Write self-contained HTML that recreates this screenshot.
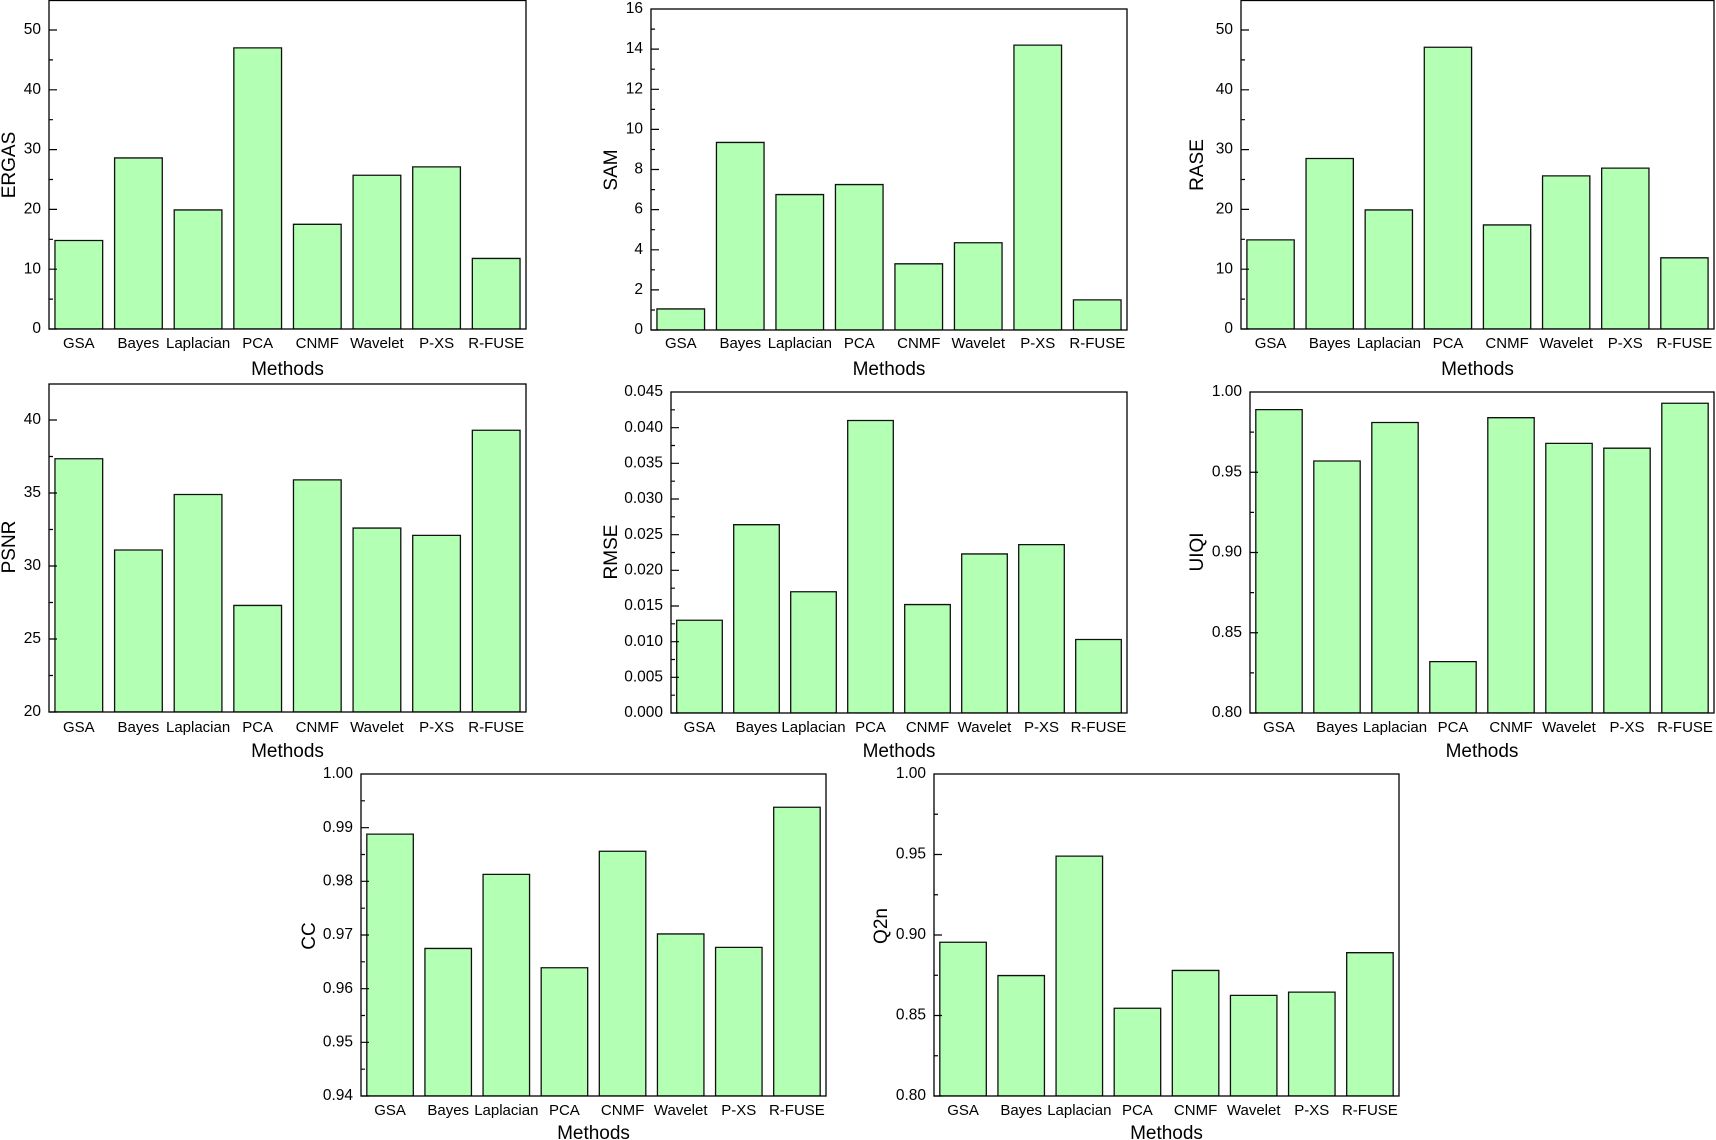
<!DOCTYPE html>
<html><head><meta charset="utf-8"><style>
html,body{margin:0;padding:0;background:#fff}
svg{display:block}
text{font-family:"Liberation Sans",Arial,sans-serif;fill:#000}
.t{font-size:15.5px;text-anchor:end;dominant-baseline:middle}
.c{font-size:15px;text-anchor:middle}
.a{font-size:19px;text-anchor:middle}
.b rect{fill:#b3ffb3;stroke:#111;stroke-width:1.3px;vector-effect:non-scaling-stroke}
.box{fill:none;stroke:#000;stroke-width:1.3}
.tk{stroke:#000;stroke-width:1.2}
</style></head><body>
<svg width="1716" height="1140" viewBox="0 0 1716 1140" xmlns="http://www.w3.org/2000/svg">

<!-- Chart 1 ERGAS -->
<svg class="b" x="49" y="0" width="477" height="329" viewBox="0 -55 8 55" preserveAspectRatio="none">
<rect x="0.1" y="-14.8" width="0.8" height="14.8"/><rect x="1.1" y="-28.6" width="0.8" height="28.6"/><rect x="2.1" y="-19.9" width="0.8" height="19.9"/><rect x="3.1" y="-47" width="0.8" height="47"/><rect x="4.1" y="-17.5" width="0.8" height="17.5"/><rect x="5.1" y="-25.7" width="0.8" height="25.7"/><rect x="6.1" y="-27.1" width="0.8" height="27.1"/><rect x="7.1" y="-11.8" width="0.8" height="11.8"/>
</svg>
<rect class="box" x="49" y="0.5" width="477" height="328.5"/>
<path class="tk" d="M49 329h8M49 269.2h8M49 209.4h8M49 149.6h8M49 89.8h8M49 30h8M49 299.1h4M49 239.3h4M49 179.5h4M49 119.7h4M49 59.9h4"/>
<text class="t" x="41" y="329">0</text><text class="t" x="41" y="269.2">10</text><text class="t" x="41" y="209.4">20</text><text class="t" x="41" y="149.6">30</text><text class="t" x="41" y="89.8">40</text><text class="t" x="41" y="30">50</text>
<g class="c"><text x="78.8" y="348">GSA</text><text x="138.4" y="348">Bayes</text><text x="198.1" y="348">Laplacian</text><text x="257.7" y="348">PCA</text><text x="317.3" y="348">CNMF</text><text x="376.9" y="348">Wavelet</text><text x="436.6" y="348">P-XS</text><text x="496.2" y="348">R-FUSE</text></g>
<text class="a" x="287.5" y="375">Methods</text>
<text class="a" transform="translate(15,165) rotate(-90)">ERGAS</text>

<!-- Chart 2 SAM -->
<svg class="b" x="651" y="9" width="476" height="321" viewBox="0 -16 8 16" preserveAspectRatio="none">
<rect x="0.1" y="-1.05" width="0.8" height="1.05"/><rect x="1.1" y="-9.35" width="0.8" height="9.35"/><rect x="2.1" y="-6.75" width="0.8" height="6.75"/><rect x="3.1" y="-7.25" width="0.8" height="7.25"/><rect x="4.1" y="-3.3" width="0.8" height="3.3"/><rect x="5.1" y="-4.35" width="0.8" height="4.35"/><rect x="6.1" y="-14.2" width="0.8" height="14.2"/><rect x="7.1" y="-1.5" width="0.8" height="1.5"/>
</svg>
<rect class="box" x="651" y="9" width="476" height="321"/>
<path class="tk" d="M651 330h8M651 289.9h8M651 249.8h8M651 209.6h8M651 169.5h8M651 129.4h8M651 89.3h8M651 49.1h8M651 310h4M651 269.8h4M651 229.7h4M651 189.6h4M651 149.5h4M651 109.4h4M651 69.2h4M651 29.1h4"/>
<text class="t" x="643" y="330">0</text><text class="t" x="643" y="289.9">2</text><text class="t" x="643" y="249.8">4</text><text class="t" x="643" y="209.6">6</text><text class="t" x="643" y="169.5">8</text><text class="t" x="643" y="129.4">10</text><text class="t" x="643" y="89.3">12</text><text class="t" x="643" y="49.1">14</text><text class="t" x="643" y="9">16</text>
<g class="c"><text x="680.8" y="348">GSA</text><text x="740.3" y="348">Bayes</text><text x="799.8" y="348">Laplacian</text><text x="859.3" y="348">PCA</text><text x="918.8" y="348">CNMF</text><text x="978.3" y="348">Wavelet</text><text x="1037.8" y="348">P-XS</text><text x="1097.3" y="348">R-FUSE</text></g>
<text class="a" x="889" y="375">Methods</text>
<text class="a" transform="translate(617,170) rotate(-90)">SAM</text>

<!-- Chart 3 RASE -->
<svg class="b" x="1241" y="0" width="473" height="329" viewBox="0 -55 8 55" preserveAspectRatio="none">
<rect x="0.1" y="-14.9" width="0.8" height="14.9"/><rect x="1.1" y="-28.5" width="0.8" height="28.5"/><rect x="2.1" y="-19.9" width="0.8" height="19.9"/><rect x="3.1" y="-47.1" width="0.8" height="47.1"/><rect x="4.1" y="-17.4" width="0.8" height="17.4"/><rect x="5.1" y="-25.6" width="0.8" height="25.6"/><rect x="6.1" y="-26.9" width="0.8" height="26.9"/><rect x="7.1" y="-11.9" width="0.8" height="11.9"/>
</svg>
<rect class="box" x="1241" y="0.5" width="473" height="328.5"/>
<path class="tk" d="M1241 329h8M1241 269.2h8M1241 209.4h8M1241 149.6h8M1241 89.8h8M1241 30h8M1241 299.1h4M1241 239.3h4M1241 179.5h4M1241 119.7h4M1241 59.9h4"/>
<text class="t" x="1233" y="329">0</text><text class="t" x="1233" y="269.2">10</text><text class="t" x="1233" y="209.4">20</text><text class="t" x="1233" y="149.6">30</text><text class="t" x="1233" y="89.8">40</text><text class="t" x="1233" y="30">50</text>
<g class="c"><text x="1270.6" y="348">GSA</text><text x="1329.7" y="348">Bayes</text><text x="1388.8" y="348">Laplacian</text><text x="1448" y="348">PCA</text><text x="1507.1" y="348">CNMF</text><text x="1566.2" y="348">Wavelet</text><text x="1625.3" y="348">P-XS</text><text x="1684.4" y="348">R-FUSE</text></g>
<text class="a" x="1477.5" y="375">Methods</text>
<text class="a" transform="translate(1203,165) rotate(-90)">RASE</text>

<!-- Chart 4 PSNR -->
<svg class="b" x="49" y="384" width="477" height="328" viewBox="0 -42.47 8 22.47" preserveAspectRatio="none">
<rect x="0.1" y="-37.35" width="0.8" height="17.35"/><rect x="1.1" y="-31.1" width="0.8" height="11.1"/><rect x="2.1" y="-34.9" width="0.8" height="14.9"/><rect x="3.1" y="-27.3" width="0.8" height="7.3"/><rect x="4.1" y="-35.9" width="0.8" height="15.9"/><rect x="5.1" y="-32.6" width="0.8" height="12.6"/><rect x="6.1" y="-32.1" width="0.8" height="12.1"/><rect x="7.1" y="-39.3" width="0.8" height="19.3"/>
</svg>
<rect class="box" x="49" y="384" width="477" height="328"/>
<path class="tk" d="M49 712h8M49 639h8M49 566h8M49 493h8M49 420h8M49 675.5h4M49 602.5h4M49 529.5h4M49 456.5h4"/>
<text class="t" x="41" y="712">20</text><text class="t" x="41" y="639">25</text><text class="t" x="41" y="566">30</text><text class="t" x="41" y="493">35</text><text class="t" x="41" y="420">40</text>
<g class="c"><text x="78.8" y="732">GSA</text><text x="138.4" y="732">Bayes</text><text x="198.1" y="732">Laplacian</text><text x="257.7" y="732">PCA</text><text x="317.3" y="732">CNMF</text><text x="376.9" y="732">Wavelet</text><text x="436.6" y="732">P-XS</text><text x="496.2" y="732">R-FUSE</text></g>
<text class="a" x="287.5" y="757">Methods</text>
<text class="a" transform="translate(15,547) rotate(-90)">PSNR</text>

<!-- Chart 5 RMSE -->
<svg class="b" x="671" y="392" width="456" height="321" viewBox="0 -0.045 8 0.045" preserveAspectRatio="none">
<rect x="0.1" y="-0.013" width="0.8" height="0.013"/><rect x="1.1" y="-0.0264" width="0.8" height="0.0264"/><rect x="2.1" y="-0.017" width="0.8" height="0.017"/><rect x="3.1" y="-0.041" width="0.8" height="0.041"/><rect x="4.1" y="-0.0152" width="0.8" height="0.0152"/><rect x="5.1" y="-0.0223" width="0.8" height="0.0223"/><rect x="6.1" y="-0.0236" width="0.8" height="0.0236"/><rect x="7.1" y="-0.0103" width="0.8" height="0.0103"/>
</svg>
<rect class="box" x="671" y="392" width="456" height="321"/>
<path class="tk" d="M671 713h8M671 677.3h8M671 641.7h8M671 606h8M671 570.3h8M671 534.7h8M671 499h8M671 463.3h8M671 427.7h8M671 695.2h4M671 659.5h4M671 623.8h4M671 588.2h4M671 552.5h4M671 516.8h4M671 481.2h4M671 445.5h4M671 409.8h4"/>
<text class="t" x="663" y="713">0.000</text><text class="t" x="663" y="677.3">0.005</text><text class="t" x="663" y="641.7">0.010</text><text class="t" x="663" y="606">0.015</text><text class="t" x="663" y="570.3">0.020</text><text class="t" x="663" y="534.7">0.025</text><text class="t" x="663" y="499">0.030</text><text class="t" x="663" y="463.3">0.035</text><text class="t" x="663" y="427.7">0.040</text><text class="t" x="663" y="392">0.045</text>
<g class="c"><text x="699.5" y="732">GSA</text><text x="756.5" y="732">Bayes</text><text x="813.5" y="732">Laplacian</text><text x="870.5" y="732">PCA</text><text x="927.5" y="732">CNMF</text><text x="984.5" y="732">Wavelet</text><text x="1041.5" y="732">P-XS</text><text x="1098.5" y="732">R-FUSE</text></g>
<text class="a" x="899" y="757">Methods</text>
<text class="a" transform="translate(617,552) rotate(-90)">RMSE</text>

<!-- Chart 6 UIQI -->
<svg class="b" x="1250" y="392" width="464" height="321" viewBox="0 -1 8 0.2" preserveAspectRatio="none">
<rect x="0.1" y="-0.989" width="0.8" height="0.189"/><rect x="1.1" y="-0.957" width="0.8" height="0.157"/><rect x="2.1" y="-0.981" width="0.8" height="0.181"/><rect x="3.1" y="-0.832" width="0.8" height="0.032"/><rect x="4.1" y="-0.984" width="0.8" height="0.184"/><rect x="5.1" y="-0.968" width="0.8" height="0.168"/><rect x="6.1" y="-0.965" width="0.8" height="0.165"/><rect x="7.1" y="-0.993" width="0.8" height="0.193"/>
</svg>
<rect class="box" x="1250" y="392" width="464" height="321"/>
<path class="tk" d="M1250 713h8M1250 632.75h8M1250 552.5h8M1250 472.25h8M1250 672.9h4M1250 592.6h4M1250 512.4h4M1250 432.1h4"/>
<text class="t" x="1242" y="713">0.80</text><text class="t" x="1242" y="632.75">0.85</text><text class="t" x="1242" y="552.5">0.90</text><text class="t" x="1242" y="472.25">0.95</text><text class="t" x="1242" y="392">1.00</text>
<g class="c"><text x="1279" y="732">GSA</text><text x="1337" y="732">Bayes</text><text x="1395" y="732">Laplacian</text><text x="1453" y="732">PCA</text><text x="1511" y="732">CNMF</text><text x="1569" y="732">Wavelet</text><text x="1627" y="732">P-XS</text><text x="1685" y="732">R-FUSE</text></g>
<text class="a" x="1482" y="757">Methods</text>
<text class="a" transform="translate(1203,552) rotate(-90)">UIQI</text>

<!-- Chart 7 CC -->
<svg class="b" x="361" y="774" width="465" height="322" viewBox="0 -1 8 0.06" preserveAspectRatio="none">
<rect x="0.1" y="-0.9888" width="0.8" height="0.0488"/><rect x="1.1" y="-0.9675" width="0.8" height="0.0275"/><rect x="2.1" y="-0.9813" width="0.8" height="0.0413"/><rect x="3.1" y="-0.9639" width="0.8" height="0.0239"/><rect x="4.1" y="-0.9856" width="0.8" height="0.0456"/><rect x="5.1" y="-0.9702" width="0.8" height="0.0302"/><rect x="6.1" y="-0.9677" width="0.8" height="0.0277"/><rect x="7.1" y="-0.9938" width="0.8" height="0.0538"/>
</svg>
<rect class="box" x="361" y="774" width="465" height="322"/>
<path class="tk" d="M361 1096h8M361 1042.3h8M361 988.7h8M361 935h8M361 881.3h8M361 827.7h8M361 1069.2h4M361 1015.5h4M361 961.8h4M361 908.2h4M361 854.5h4M361 800.8h4"/>
<text class="t" x="353" y="1096">0.94</text><text class="t" x="353" y="1042.3">0.95</text><text class="t" x="353" y="988.7">0.96</text><text class="t" x="353" y="935">0.97</text><text class="t" x="353" y="881.3">0.98</text><text class="t" x="353" y="827.7">0.99</text><text class="t" x="353" y="774">1.00</text>
<g class="c"><text x="390.1" y="1115">GSA</text><text x="448.2" y="1115">Bayes</text><text x="506.3" y="1115">Laplacian</text><text x="564.4" y="1115">PCA</text><text x="622.6" y="1115">CNMF</text><text x="680.7" y="1115">Wavelet</text><text x="738.8" y="1115">P-XS</text><text x="796.9" y="1115">R-FUSE</text></g>
<text class="a" x="593.5" y="1139">Methods</text>
<text class="a" transform="translate(315,936) rotate(-90)">CC</text>

<!-- Chart 8 Q2n -->
<svg class="b" x="934" y="774" width="465" height="322" viewBox="0 -1 8 0.2" preserveAspectRatio="none">
<rect x="0.1" y="-0.8955" width="0.8" height="0.0955"/><rect x="1.1" y="-0.8748" width="0.8" height="0.0748"/><rect x="2.1" y="-0.949" width="0.8" height="0.149"/><rect x="3.1" y="-0.8545" width="0.8" height="0.0545"/><rect x="4.1" y="-0.878" width="0.8" height="0.078"/><rect x="5.1" y="-0.8625" width="0.8" height="0.0625"/><rect x="6.1" y="-0.8645" width="0.8" height="0.0645"/><rect x="7.1" y="-0.889" width="0.8" height="0.089"/>
</svg>
<rect class="box" x="934" y="774" width="465" height="322"/>
<path class="tk" d="M934 1096h8M934 1015.5h8M934 935h8M934 854.5h8M934 1055.75h4M934 975.25h4M934 894.75h4M934 814.25h4"/>
<text class="t" x="926" y="1096">0.80</text><text class="t" x="926" y="1015.5">0.85</text><text class="t" x="926" y="935">0.90</text><text class="t" x="926" y="854.5">0.95</text><text class="t" x="926" y="774">1.00</text>
<g class="c"><text x="963.1" y="1115">GSA</text><text x="1021.2" y="1115">Bayes</text><text x="1079.3" y="1115">Laplacian</text><text x="1137.4" y="1115">PCA</text><text x="1195.6" y="1115">CNMF</text><text x="1253.7" y="1115">Wavelet</text><text x="1311.8" y="1115">P-XS</text><text x="1369.9" y="1115">R-FUSE</text></g>
<text class="a" x="1166.5" y="1139">Methods</text>
<text class="a" transform="translate(887,926) rotate(-90)">Q2n</text>

</svg>
</body></html>
